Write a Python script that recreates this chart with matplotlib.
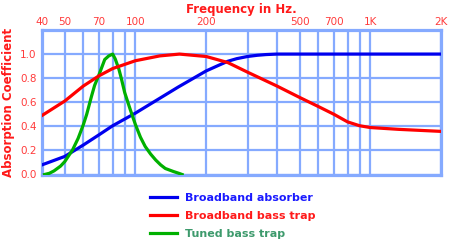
import numpy as np
import matplotlib
matplotlib.use("Agg")
from matplotlib import pyplot as plt

# values (frequency in Hz, absorption coefficient)
absorber_f = [40, 50, 60, 70, 80, 100, 152, 200, 225, 247, 270, 300, 330, 360, 400, 2000]
absorber_v = [0.08, 0.15, 0.245, 0.33, 0.405, 0.51, 0.726, 0.86, 0.905, 0.94, 0.962, 0.98, 0.99, 0.996, 1.0, 1.0]

basstrap_f = [40, 50, 60, 70, 80, 100, 127, 154, 200, 247, 300, 400, 500, 600, 700, 800, 900, 1000, 1319, 2000]
basstrap_v = [0.49, 0.61, 0.735, 0.82, 0.88, 0.945, 0.985, 1.0, 0.98, 0.93, 0.85, 0.735, 0.64, 0.565, 0.50, 0.437, 0.405, 0.39, 0.375, 0.358]

tuned_f = [41, 43, 45, 48, 50, 54, 57, 60, 62, 65, 67, 70, 74, 77, 80, 82, 85, 87, 90, 95,
           100, 105, 110, 116, 122, 128, 134, 145, 153, 158]
tuned_v = [0.0, 0.01, 0.03, 0.07, 0.107, 0.205, 0.3, 0.414, 0.5, 0.65, 0.74, 0.83, 0.955, 0.985, 1.0,
           0.96, 0.875, 0.8, 0.68, 0.54, 0.414, 0.31, 0.233, 0.17, 0.12, 0.08, 0.05, 0.025, 0.01, 0.0]

xticks = [40, 50, 70, 100, 200, 500, 700, 1000, 2000]
xticklabels = ["40", "50", "70", "100", "200", "500", "700", "1K", "2K"]
xminor = [60, 80, 90, 300, 400, 600, 800, 900]
yticks = [0.0, 0.2, 0.4, 0.6, 0.8, 1.0]

gridc = "#85aaff"
labelc = "#ff3b3b"

fig = plt.figure(figsize=(4.51, 2.45), dpi=100)
ax = fig.add_axes([42/451, 1-174.5/245, 399/451, 144.5/245])

ax.plot(absorber_f, absorber_v, color="#0000ee", lw=2.3, label="Broadband absorber", zorder=3)
ax.plot(tuned_f, tuned_v, color="#00b000", lw=2.3, label="Tuned bass trap", zorder=3)
ax.plot(basstrap_f, basstrap_v, color="#ff0000", lw=2.3, label="Broadband bass trap", zorder=4)

ax.set_xscale("log")
ax.set_xlim(40, 2000)
ax.set_ylim(0, 1.2)
ax.xaxis.tick_top()
ax.set_xticks(xticks)
ax.set_xticklabels(xticklabels)
ax.set_xticks(xminor, minor=True)
ax.xaxis.set_minor_formatter(matplotlib.ticker.NullFormatter())
ax.set_yticks(yticks)
ax.set_yticklabels(["%.1f" % v for v in yticks])
ax.tick_params(axis="both", which="both", length=0, labelcolor=labelc, labelsize=7.5)
ax.tick_params(axis="x", pad=2)
ax.tick_params(axis="y", pad=4)

ax.grid(True, which="both", color=gridc, lw=1.6, zorder=1)
ax.set_axisbelow(True)
for s in ax.spines.values():
    s.set_color(gridc)
    s.set_linewidth(2.3)

fig.text(241/451, 1-9/245, "Frequency in Hz.", color="#ff1a1a", fontsize=8.5,
         fontweight="bold", ha="center", va="center")
fig.text(9/451, 1-102/245, "Absorption Coefficient", color="#ff1a1a", fontsize=8.5,
         fontweight="bold", rotation=90, ha="center", va="center")

h, l = ax.get_legend_handles_labels()
order = [0, 2, 1]
leg = fig.legend([h[i] for i in order], [l[i] for i in order],
                 loc="upper left", bbox_to_anchor=(150/451, 1-193/245),
                 frameon=False, borderpad=0, borderaxespad=0,
                 handlelength=2.4, handletextpad=0.75, labelspacing=0.72,
                 prop={"weight": "bold", "size": 8},
                 labelcolor=["#1a1aff", "#ff1a1a", "#3d9a6c"])

fig.savefig("out.png", dpi=100)
